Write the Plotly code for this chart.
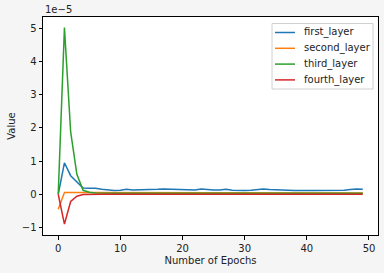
import plotly.graph_objects as go

epochs = list(range(50))

first_layer = [0.0, 0.95, 0.56, 0.36, 0.19, 0.18, 0.18, 0.15, 0.12, 0.11,
               0.12, 0.15, 0.13, 0.13, 0.14, 0.15, 0.15, 0.16, 0.15, 0.14,
               0.13, 0.12, 0.13, 0.16, 0.14, 0.13, 0.13, 0.15, 0.12, 0.11,
               0.11, 0.12, 0.14, 0.16, 0.14, 0.14, 0.14, 0.12, 0.11, 0.10,
               0.11, 0.11, 0.11, 0.13, 0.12, 0.12, 0.12, 0.14, 0.16, 0.15]
second_layer = [-0.45, 0.05, 0.05, 0.05, 0.04, 0.03, 0.03, 0.03, 0.03, 0.03,
                0.03, 0.03, 0.04, 0.03, 0.03, 0.04, 0.04, 0.04, 0.03, 0.03,
                0.03, 0.03, 0.04, 0.05, 0.03, 0.03, 0.03, 0.04, 0.03, 0.03,
                0.03, 0.03, 0.03, 0.04, 0.03, 0.03, 0.04, 0.03, 0.03, 0.03,
                0.03, 0.03, 0.03, 0.03, 0.03, 0.03, 0.03, 0.04, 0.05, 0.04]
third_layer = [0.0, 5.03, 1.88, 0.6, 0.12, 0.06, 0.04, 0.03, 0.03, 0.03,
               0.03, 0.03, 0.03, 0.03, 0.03, 0.03, 0.03, 0.03, 0.03, 0.03,
               0.03, 0.03, 0.03, 0.03, 0.03, 0.03, 0.03, 0.03, 0.03, 0.03,
               0.03, 0.03, 0.03, 0.03, 0.03, 0.03, 0.03, 0.03, 0.03, 0.03,
               0.03, 0.03, 0.03, 0.03, 0.03, 0.03, 0.03, 0.03, 0.03, 0.03]
fourth_layer = [0.0, -0.9, -0.22, -0.06, -0.01, 0.0, 0.0, 0.0, 0.0, 0.0,
                0.0, 0.0, 0.0, 0.0, 0.0, 0.0, 0.0, 0.0, 0.0, 0.0,
                0.0, 0.0, 0.0, 0.0, 0.0, 0.0, 0.0, 0.0, 0.0, 0.0,
                0.0, 0.0, 0.0, 0.0, 0.0, 0.0, 0.0, 0.0, 0.0, 0.0,
                0.0, 0.0, 0.0, 0.0, 0.0, 0.0, 0.0, 0.0, 0.0, 0.0]

scale = 1e-5
names = ["first_layer", "second_layer", "third_layer", "fourth_layer"]
values = [first_layer, second_layer, third_layer, fourth_layer]
colors = ["#1f77b4", "#ff7f0e", "#2ca02c", "#d62728"]

y_ticks = [-1, 0, 1, 2, 3, 4, 5]
y_ticktext = ["\u22121", "0", "1", "2", "3", "4", "5"]
x_ticks = [0, 10, 20, 30, 40, 50]

W, H = 384, 273
L, R, T, B = 43, 6, 17, 38
pw, ph = W - L - R, H - T - B

def px_x(p):
    return (p - L) / pw

def px_y(p):
    return (H - B - p) / ph

fig = go.Figure()
for name, vals, color in zip(names, values, colors):
    fig.add_trace(go.Scatter(x=epochs, y=[v * scale for v in vals], mode="lines",
                             name=name, showlegend=False,
                             line=dict(color=color, width=1.5)))

axis_common = dict(showgrid=False, zeroline=False, showline=True, linecolor="black",
                   linewidth=1, mirror=True, ticks="outside", ticklen=3.5,
                   tickcolor="black", tickfont=dict(size=10, color="#222"),
                   automargin=False)

# legend (drawn as box + sample lines + text)
shapes = [dict(type="rect", xref="paper", yref="paper",
               x0=px_x(272), x1=px_x(373), y0=px_y(89), y1=px_y(23.5),
               line=dict(color="#d0d0d0", width=1), fillcolor="rgba(255,255,255,0.8)")]
annotations = [dict(text="1e\u22125", xref="paper", yref="paper", x=0, y=1,
                    xanchor="left", yanchor="bottom", showarrow=False,
                    font=dict(size=10, color="#222"))]
for i, (name, color) in enumerate(zip(names, colors)):
    yc = 32.5 + i * 15.8
    shapes.append(dict(type="line", xref="paper", yref="paper",
                       x0=px_x(275), x1=px_x(295), y0=px_y(yc), y1=px_y(yc),
                       line=dict(color=color, width=1.5)))
    annotations.append(dict(text=name, xref="paper", yref="paper",
                            x=px_x(302), y=px_y(yc), xanchor="left", yanchor="middle",
                            showarrow=False, font=dict(size=10, color="#222")))

fig.update_layout(
    width=W, height=H,
    margin=dict(l=L, r=R, t=T, b=B),
    paper_bgcolor="#f5f5f5", plot_bgcolor="white",
    font=dict(family="DejaVu Sans", size=10, color="#222"),
    xaxis=dict(range=[-2.45, 51.45], tickvals=x_ticks,
               title=dict(text="Number of Epochs", font=dict(size=10), standoff=4),
               **axis_common),
    yaxis=dict(range=[-1.23e-5, 5.35e-5], tickvals=[t * scale for t in y_ticks],
               ticktext=y_ticktext,
               title=dict(text="Value", font=dict(size=10), standoff=4),
               **axis_common),
    shapes=shapes,
    annotations=annotations,
    showlegend=False,
)

fig.write_html("out.html", config={"displayModeBar": False},
               post_script="document.body.style.margin='0';document.body.style.padding='0';document.body.style.background='#f5f5f5';")
